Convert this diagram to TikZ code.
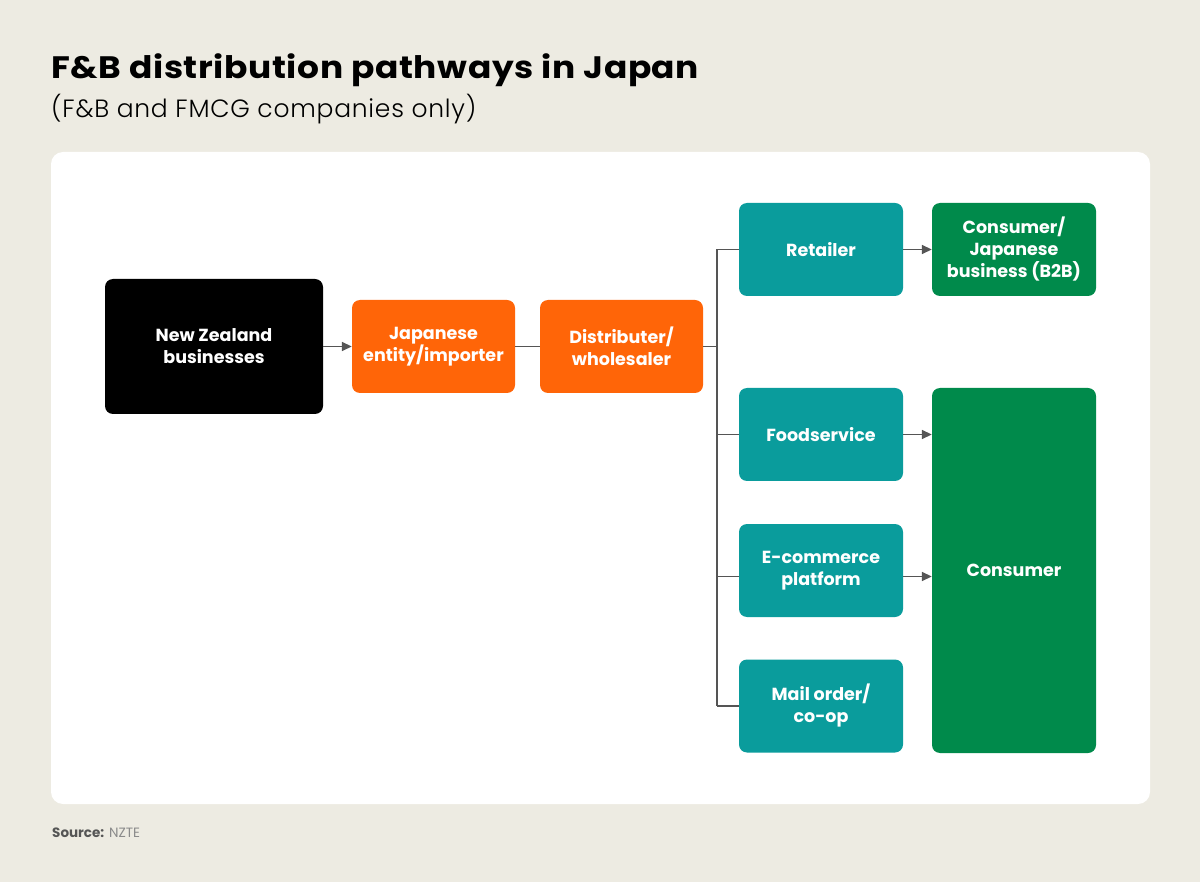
\documentclass[tikz,border=0pt]{standalone}
\usepackage{fontspec}
\setmainfont{Poppins}
\newfontfamily\lightfont[LetterSpace=3]{Poppins Light}
\newfontfamily\titlefont[LetterSpace=2,FakeStretch=1.11]{Poppins}
\usetikzlibrary{arrows.meta}
\definecolor{bgc}{HTML}{EDEBE2}
\definecolor{orng}{HTML}{FF6508}
\definecolor{teal2}{HTML}{0A9C9C}
\definecolor{grn}{HTML}{008A4B}
\definecolor{linec}{HTML}{555555}
\definecolor{srcg}{HTML}{555555}
\definecolor{srcl}{HTML}{8A8A8A}
\tikzset{
  box/.style={rectangle, rounded corners=8pt, draw=none, text=white,
    font=\fontsize{17.5}{22}\selectfont\bfseries, align=center, inner sep=0pt},
  conn/.style={draw=linec, line width=1.6pt},
  arr/.style={conn, -{Triangle[length=10pt,width=9pt]}},
}
\begin{document}
\begin{tikzpicture}[x=1pt,y=-1pt]
\fill[bgc] (0,0) rectangle (1200,882);
\useasboundingbox (0,0) rectangle (1200,882);
\fill[white, rounded corners=12pt] (51,152) rectangle (1150,804);
\node[anchor=base west, inner sep=0pt, font=\fontsize{31}{36}\selectfont\titlefont\bfseries] (title) at (51,79) {F\&B distribution pathways in Japan};
\node[anchor=base west, inner sep=0pt, font=\fontsize{25}{30}\selectfont\lightfont] (sub) at (51,118) {(F\&B and FMCG companies only)};
\node[anchor=base west, inner sep=0pt, font=\fontsize{13.5}{16}\selectfont] (src) at (52,837) {\textcolor{srcg}{\bfseries Source:} \textcolor{srcl}{NZTE}};

\node[box, fill=black, minimum width=218pt, minimum height=135pt] (nz) at (214,346.5) {New Zealand\\businesses};
\node[box, fill=orng, minimum width=163pt, minimum height=93pt] (jp) at (433.5,346.5) {Japanese\\entity/importer};
\node[box, fill=orng, minimum width=163pt, minimum height=93pt] (dist) at (621.5,346.5) {Distributer/\\wholesaler};
\node[box, fill=teal2, minimum width=164pt, minimum height=93pt] (ret) at (821,249.5) {Retailer};
\node[box, fill=teal2, minimum width=164pt, minimum height=93pt] (food) at (821,434.5) {Foodservice};
\node[box, fill=teal2, minimum width=164pt, minimum height=93pt] (ecom) at (821,570.5) {E-commerce\\platform};
\node[box, fill=teal2, minimum width=164pt, minimum height=93pt] (mail) at (821,706) {Mail order/\\co-op};
\node[box, fill=grn, minimum width=164pt, minimum height=93pt] (b2b) at (1014,249.5) {Consumer/\\Japanese\\business (B2B)};
\node[box, fill=grn, minimum width=164pt, minimum height=365pt] (cons) at (1014,570.5) {Consumer};

\coordinate (tr) at (717,346.5);
\draw[arr] (nz.east) -- (jp.west);
\draw[conn] (jp.east) -- (dist.west);
\draw[conn] (dist.east) -- (tr);
\draw[conn] (tr |- ret.west) -- (tr |- mail.west);
\draw[conn] (tr |- ret.west) -- (ret.west);
\draw[conn] (tr |- food.west) -- (food.west);
\draw[conn] ([yshift=-6pt]tr |- ecom.west) -- ([yshift=-6pt]ecom.west);
\draw[conn] (tr |- mail.west) -- (mail.west);
\draw[arr] (ret.east) -- (b2b.west);
\draw[arr] (food.east) -- (food.east -| cons.west);
\draw[arr] ([yshift=-6pt]ecom.east) -- ([yshift=-6pt]ecom.east -| cons.west);
\end{tikzpicture}
\end{document}
